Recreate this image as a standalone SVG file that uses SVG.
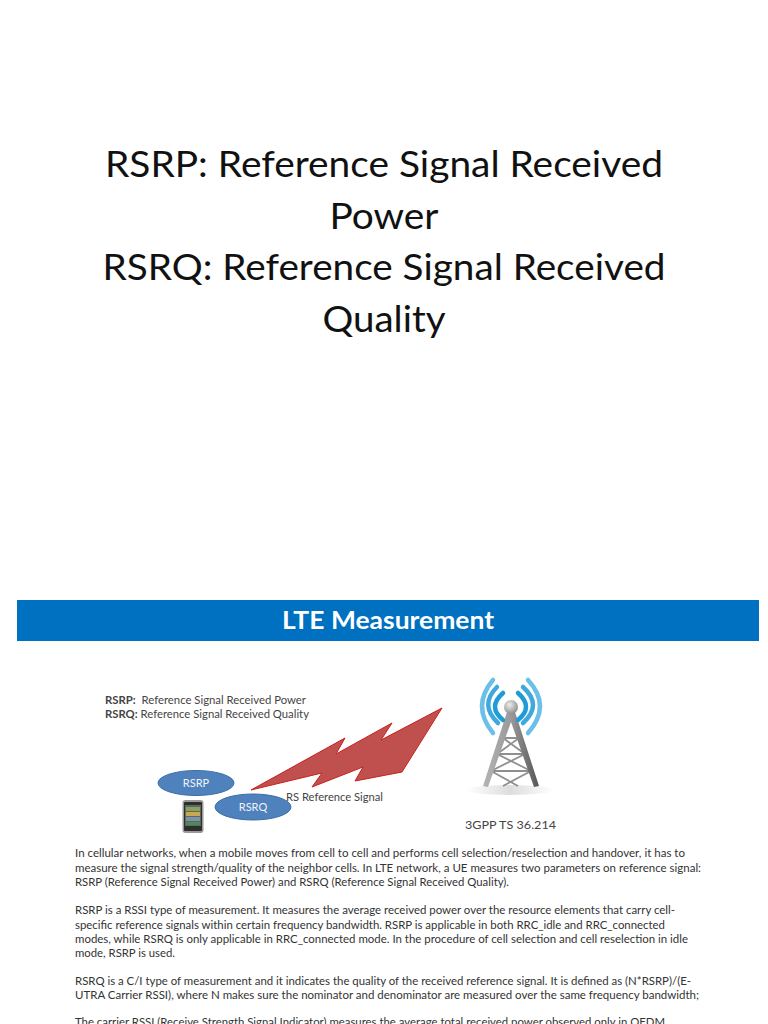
<svg xmlns="http://www.w3.org/2000/svg" width="768" height="1024" viewBox="0 0 768 1024">
<style>
.t{font-family:Lato,"Liberation Sans",sans-serif}
.title{font-size:37px;fill:#111;text-anchor:middle}
.body{font-size:11.5px;fill:#333}
.cap{font-size:11.5px;fill:#444}
.el{fill:#4f81bd;stroke:#3a6ea5;stroke-width:1}
.ell{font-size:11px;fill:#eef3fa;text-anchor:middle}
.arc{fill:none;stroke-linecap:round;stroke-width:4.5}
.tw{fill:none;stroke:#8f8f8f;stroke-width:1.8}
</style>
<defs>
<radialGradient id="ball" cx="40%" cy="35%" r="70%"><stop offset="0" stop-color="#eee"/><stop offset="1" stop-color="#888"/></radialGradient>
<linearGradient id="shadow" x1="0" x2="1"><stop offset="0" stop-color="#fff"/><stop offset=".5" stop-color="#ddd"/><stop offset="1" stop-color="#fff"/></linearGradient>
<linearGradient id="steel" x1="0" x2="1"><stop offset="0" stop-color="#b5b5b5"/><stop offset=".5" stop-color="#999"/><stop offset="1" stop-color="#555"/></linearGradient>
</defs>
<rect width="768" height="1024" fill="#fff"/>
<g id="title" class="t title">
<text x="384" y="177" textLength="558" lengthAdjust="spacingAndGlyphs">RSRP: Reference Signal Received</text>
<text x="384" y="229" textLength="109" lengthAdjust="spacingAndGlyphs">Power</text>
<text x="384" y="280" textLength="563" lengthAdjust="spacingAndGlyphs">RSRQ: Reference Signal Received</text>
<text x="384" y="332" textLength="123" lengthAdjust="spacingAndGlyphs">Quality</text>
</g>
<g id="header">
<rect x="17" y="600" width="742" height="41" fill="#0070c0"/>
<text class="t" x="388" y="629" font-size="24" font-weight="700" fill="#fff" text-anchor="middle" textLength="212" lengthAdjust="spacingAndGlyphs">LTE Measurement</text>
</g>
<g id="legend" class="t cap">
<text x="105" y="704" textLength="201" xml:space="preserve" lengthAdjust="spacingAndGlyphs"><tspan font-weight="700">RSRP:</tspan>  Reference Signal Received Power</text>
<text x="105" y="718" textLength="204" lengthAdjust="spacingAndGlyphs"><tspan font-weight="700">RSRQ:</tspan> Reference Signal Received Quality</text>
</g>
<g id="bolt">
<path d="M251 790L345 738L336 754L392 723L381 740L442 708L402 772L355 781L363 767L312 787L322 773Z" fill="#c0504d" stroke="#c8201f" stroke-width="1"/>
</g>
<g id="rsrp"><ellipse class="el" cx="196" cy="783" rx="38" ry="12.5"/><text class="t ell" x="196" y="787">RSRP</text></g>
<g id="rsrq"><ellipse class="el" cx="253" cy="807" rx="38" ry="13"/><text class="t ell" x="253" y="811">RSRQ</text></g>
<g id="rs-label"><text class="t cap" x="286" y="801" font-size="12" textLength="97" lengthAdjust="spacingAndGlyphs">RS Reference Signal</text></g>
<g id="phone">
<rect x="182.500" y="800" width="21" height="33" rx="3" fill="#9a9a9a"/>
<rect x="184" y="802" width="18" height="29" rx="1" fill="#2e2e2e"/>
<rect x="185" y="805" width="16" height="21" fill="#5e6a58"/>
<rect x="186" y="807" width="14" height="4" fill="#8aa060"/>
<rect x="186" y="812" width="14" height="4" fill="#c8a850"/>
<rect x="186" y="817" width="14" height="4" fill="#7a92b0"/>
<rect x="186" y="822" width="14" height="3" fill="#4e8a60"/>
</g>
<g id="tower">
<ellipse cx="510" cy="790" rx="44" ry="5" fill="url(#shadow)"/>
<path class="tw" d="M503 738L519 738M497 754L525 754M491 771L531 771M503 738L525 754M519 738L497 754M497 754L531 771M525 754L491 771M491 771L518 786M531 771L503 786"/>
<path d="M507 712L515 712L539 786L534 787L511 722L488 787L483 786Z" fill="url(#steel)"/>
<circle cx="511" cy="707" r="7" fill="url(#ball)"/>
<g class="arc">
<path d="M503 693Q487 707 503 720" stroke="#1f9bd7"/>
<path d="M518 693Q534 707 518 720" stroke="#1f9bd7"/>
<path d="M497 687Q479 705 498 723" stroke="#3fa9de"/>
<path d="M523 687Q543 705 523 723" stroke="#3fa9de"/>
<path d="M493 680Q471 706 493 733" stroke="#6cc0e8"/>
<path d="M528 680Q552 706 528 733" stroke="#6cc0e8"/>
</g>
<text class="t cap" x="465" y="829" font-size="12" textLength="91" lengthAdjust="spacingAndGlyphs">3GPP TS 36.214</text>
</g>
<g id="body" class="t body">
<text x="75" y="857" textLength="610" lengthAdjust="spacingAndGlyphs">In cellular networks, when a mobile moves from cell to cell and performs cell selection/reselection and handover, it has to</text>
<text x="75" y="872" textLength="626" lengthAdjust="spacingAndGlyphs">measure the signal strength/quality of the neighbor cells. In LTE network, a UE measures two parameters on reference signal:</text>
<text x="75" y="886" textLength="434" lengthAdjust="spacingAndGlyphs">RSRP (Reference Signal Received Power) and RSRQ (Reference Signal Received Quality).</text>
<text x="75" y="914" textLength="600" lengthAdjust="spacingAndGlyphs">RSRP is a RSSI type of measurement. It measures the average received power over the resource elements that carry cell-</text>
<text x="75" y="929" textLength="590" lengthAdjust="spacingAndGlyphs">specific reference signals within certain frequency bandwidth. RSRP is applicable in both RRC_idle and RRC_connected</text>
<text x="75" y="943" textLength="613" lengthAdjust="spacingAndGlyphs">modes, while RSRQ is only applicable in RRC_connected mode. In the procedure of cell selection and cell reselection in idle</text>
<text x="75" y="957" textLength="100" lengthAdjust="spacingAndGlyphs">mode, RSRP is used.</text>
<text x="75" y="985" textLength="616" lengthAdjust="spacingAndGlyphs">RSRQ is a C/I type of measurement and it indicates the quality of the received reference signal. It is defined as (N*RSRP)/(E-</text>
<text x="75" y="999" textLength="624" lengthAdjust="spacingAndGlyphs">UTRA Carrier RSSI), where N makes sure the nominator and denominator are measured over the same frequency bandwidth;</text>
<text x="75" y="1026" textLength="590" lengthAdjust="spacingAndGlyphs">The carrier RSSI (Receive Strength Signal Indicator) measures the average total received power observed only in OFDM</text>
</g>
</svg>
